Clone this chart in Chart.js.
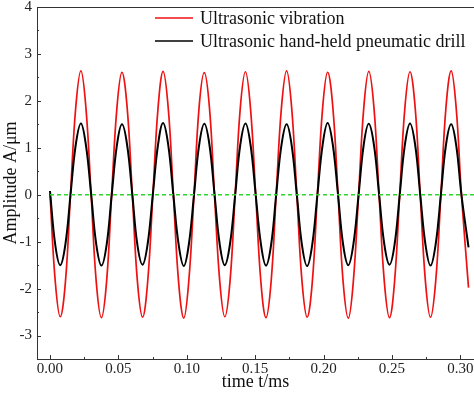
<!DOCTYPE html>
<html>
<head>
<meta charset="utf-8">
<script src="https://cdn.jsdelivr.net/npm/chart.js@4"></script>
<style>
  html, body { margin: 0; padding: 0; background: #fff; }
  #wrap { width: 474px; height: 393px; }
</style>
</head>
<body>
<div id="wrap"><canvas id="amp"></canvas></div>
<script>
// sample times (ms)
var time = [
  0.0000, 0.0038, 0.0075, 0.0113, 0.0150, 0.0188, 0.0226, 0.0263,
  0.0301, 0.0338, 0.0376, 0.0414, 0.0451, 0.0489, 0.0526, 0.0564,
  0.0602, 0.0639, 0.0677, 0.0714, 0.0752, 0.0790, 0.0827, 0.0865,
  0.0902, 0.0940, 0.0978, 0.1015, 0.1053, 0.1090, 0.1128, 0.1166,
  0.1203, 0.1241, 0.1278, 0.1316, 0.1354, 0.1391, 0.1429, 0.1466,
  0.1504, 0.1542, 0.1579, 0.1617, 0.1654, 0.1692, 0.1730, 0.1767,
  0.1805, 0.1842, 0.1880, 0.1918, 0.1955, 0.1993, 0.2030, 0.2068,
  0.2106, 0.2143, 0.2181, 0.2218, 0.2256, 0.2294, 0.2331, 0.2369,
  0.2406, 0.2444, 0.2482, 0.2519, 0.2557, 0.2594, 0.2632, 0.2670,
  0.2707, 0.2745, 0.2782, 0.2820, 0.2858, 0.2895, 0.2933, 0.2970,
  0.3008, 0.3060
];

// Ultrasonic vibration (red)
var vibration = [
  0.02, -1.83, -2.60, -1.85, 0.01, 1.85, 2.64, 1.84,
  -0.01, -1.85, -2.62, -1.84, 0.02, 1.84, 2.61, 1.86,
  0.00, -1.84, -2.61, -1.86, -0.01, 1.85, 2.63, 1.83,
  0.01, -1.85, -2.63, -1.83, 0.00, 1.86, 2.60, 1.85,
  -0.02, -1.84, -2.60, -1.85, 0.01, 1.84, 2.62, 1.84,
  0.00, -1.86, -2.62, -1.84, 0.02, 1.85, 2.64, 1.85,
  -0.01, -1.83, -2.61, -1.85, 0.00, 1.84, 2.61, 1.86,
  0.01, -1.85, -2.63, -1.84, -0.01, 1.85, 2.63, 1.84,
  0.00, -1.84, -2.62, -1.86, 0.01, 1.83, 2.62, 1.85,
  -0.01, -1.85, -2.61, -1.84, 0.00, 1.86, 2.64, 1.84,
  0.01, -1.98
];

// Ultrasonic hand-held pneumatic drill (black)
var drill = [
  0.08, -1.06, -1.50, -1.05, 0.00, 1.06, 1.52, 1.05,
  0.01, -1.05, -1.51, -1.07, -0.01, 1.05, 1.50, 1.06,
  0.00, -1.07, -1.49, -1.05, 0.01, 1.07, 1.53, 1.05,
  -0.01, -1.05, -1.52, -1.06, 0.00, 1.05, 1.51, 1.06,
  0.01, -1.06, -1.50, -1.05, 0.00, 1.06, 1.52, 1.07,
  0.00, -1.05, -1.51, -1.06, 0.01, 1.05, 1.50, 1.05,
  -0.01, -1.07, -1.52, -1.05, 0.00, 1.06, 1.53, 1.06,
  0.00, -1.06, -1.50, -1.06, -0.01, 1.07, 1.51, 1.05,
  0.01, -1.05, -1.49, -1.07, 0.00, 1.05, 1.52, 1.06,
  0.00, -1.06, -1.51, -1.05, 0.01, 1.06, 1.50, 1.05,
  0.00, -1.12
];

// zero reference line
var zeroTime = [0, 0.31];
var zeroLine = [0, 0];

var xTicks = [0, 0.025, 0.05, 0.075, 0.10, 0.125, 0.15, 0.175, 0.20, 0.225, 0.25, 0.275, 0.30];
var yTicks = [-3.5, -3, -2.5, -2, -1.5, -1, -0.5, 0, 0.5, 1, 1.5, 2, 2.5, 3, 3.5, 4];

function pts(xs, ys) {
  return xs.map(function (x, i) { return { x: x, y: ys[i] }; });
}

var serif = '"Liberation Serif", "Times New Roman", serif';

// frame, inward ticks and legend
var decor = {
  id: 'decor',
  afterDraw: function (chart) {
    var c = chart.ctx, a = chart.chartArea;
    var xs = chart.scales.x, ys = chart.scales.y;
    c.save();
    c.strokeStyle = '#333';
    c.lineWidth = 1;
    c.beginPath();
    c.moveTo(a.left, a.top + 0.5);
    c.lineTo(a.right, a.top + 0.5);
    c.stroke();

    c.beginPath();
    xTicks.forEach(function (v) {
      var px = Math.round(xs.getPixelForValue(v)) + 0.5;
      var len = (Math.round(v * 1000) % 50 === 0) ? 4 : 2;
      c.moveTo(px, a.bottom);
      c.lineTo(px, a.bottom - len);
    });
    yTicks.forEach(function (v) {
      var py = Math.round(ys.getPixelForValue(v)) + 0.5;
      var len = Number.isInteger(v) ? 4 : 2;
      c.moveTo(a.left, py);
      c.lineTo(a.left + len, py);
    });
    c.stroke();

    // legend
    var items = [chart.data.datasets[0], chart.data.datasets[1]];
    c.font = '18px ' + serif;
    c.textBaseline = 'middle';
    c.fillStyle = '#111';
    items.forEach(function (ds, i) {
      var y = 18 + i * 23;
      c.strokeStyle = ds.borderColor;
      c.lineWidth = 1.5;
      c.beginPath();
      c.moveTo(155, y);
      c.lineTo(193, y);
      c.stroke();
      c.fillText(ds.label, 200, y + 1);
    });
    c.restore();
  }
};

var ctx = document.getElementById('amp').getContext('2d');
var chart = new Chart(ctx, {
  type: 'line',
  data: {
    datasets: [{
      label: 'Ultrasonic vibration',
      data: pts(time, vibration),
      borderColor: '#ee1111',
      borderWidth: 1.7,
      pointRadius: 0,
      tension: 0.4,
      order: 2
    }, {
      label: 'Ultrasonic hand-held pneumatic drill',
      data: pts(time, drill),
      borderColor: '#000000',
      borderWidth: 2,
      pointRadius: 0,
      tension: 0.4,
      order: 1
    }, {
      label: 'zero',
      data: pts(zeroTime, zeroLine),
      borderColor: '#2ed62e',
      borderWidth: 1.3,
      borderDash: [4, 3],
      pointRadius: 0,
      order: 0
    }]
  },
  options: {
    responsive: true,
    maintainAspectRatio: false,
    animation: false,
    layout: { padding: { top: 7, right: 0, bottom: 0, left: 0 } },
    plugins: {
      legend: { display: false },
      tooltip: { enabled: false }
    },
    scales: {
      x: {
        type: 'linear',
        min: -0.0095,
        max: 0.31,
        afterBuildTicks: function (s) {
          s.ticks = xTicks.map(function (v) { return { value: v }; });
        },
        afterFit: function (s) {
          s.height = 34;
          s.paddingLeft = 0;
          s.paddingRight = 0;
        },
        ticks: {
          autoSkip: false,
          maxRotation: 0,
          padding: 1,
          color: '#222',
          font: { family: serif, size: 15 },
          callback: function (v) {
            return (Math.round(v * 1000) % 50 === 0) ? v.toFixed(2) : '';
          }
        },
        grid: { display: true, drawOnChartArea: false, drawTicks: false, tickLength: 0 },
        border: { display: true, color: '#333', width: 1 },
        title: {
          display: true,
          text: 'time t/ms',
          color: '#111',
          font: { family: serif, size: 18 },
          padding: { top: 0, bottom: 0 }
        }
      },
      y: {
        type: 'linear',
        min: -3.5,
        max: 4,
        afterBuildTicks: function (s) {
          s.ticks = yTicks.map(function (v) { return { value: v }; });
        },
        afterFit: function (s) {
          s.width = 37;
          s.paddingTop = 0;
          s.paddingBottom = 0;
        },
        ticks: {
          autoSkip: false,
          padding: 5,
          color: '#222',
          font: { family: serif, size: 15 },
          callback: function (v) {
            return Number.isInteger(v) ? String(v) : '';
          }
        },
        grid: { display: true, drawOnChartArea: false, drawTicks: false, tickLength: 0 },
        border: { display: true, color: '#333', width: 1 },
        title: {
          display: true,
          text: 'Amplitude A/μm',
          color: '#111',
          font: { family: serif, size: 18 },
          padding: { top: 0, bottom: 2 }
        }
      }
    }
  },
  plugins: [decor]
});
</script>
</body>
</html>
